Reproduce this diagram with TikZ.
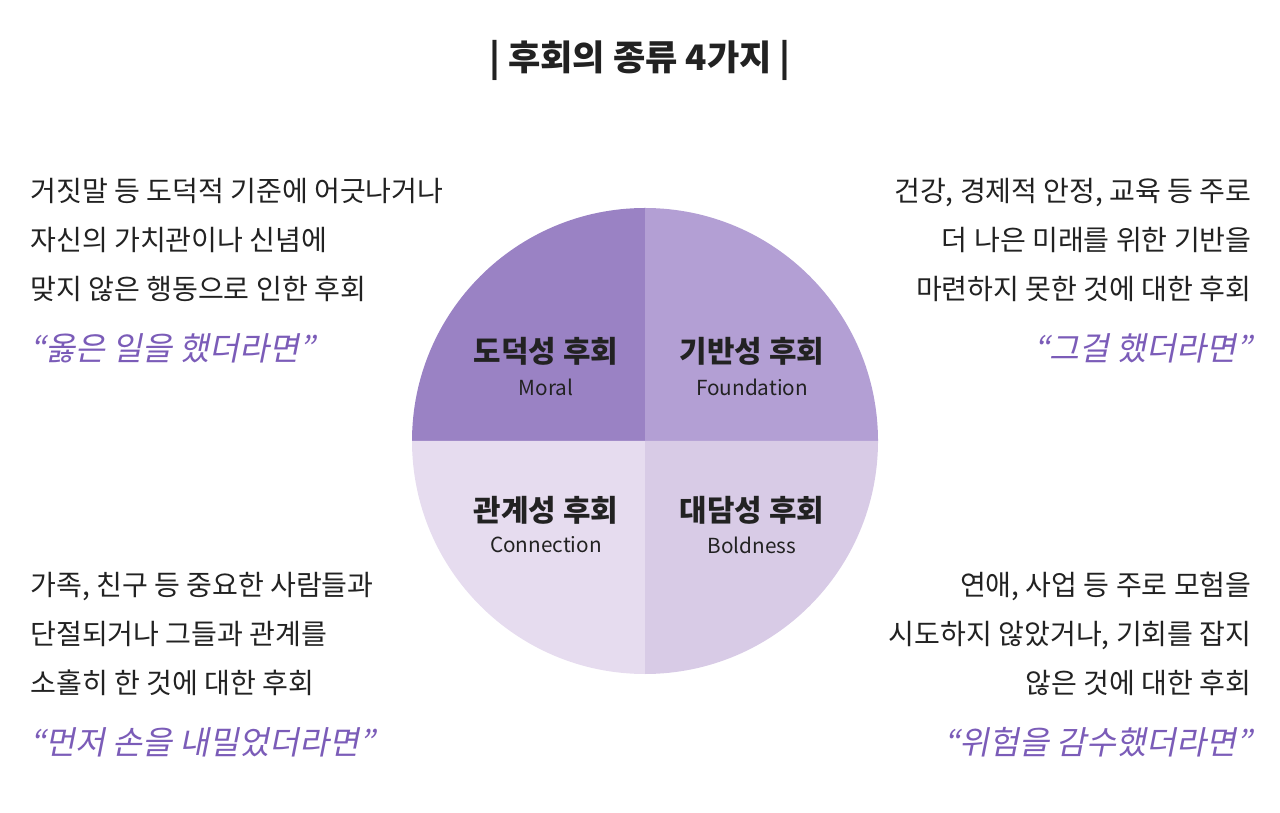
\documentclass[tikz,border=0pt]{standalone}
\usepackage{fontspec}
\setmainfont{Noto Sans CJK KR}
\newfontfamily\slantfont[FakeSlant=0.2]{Noto Sans CJK KR}
\usetikzlibrary{positioning}
\definecolor{quadTL}{HTML}{9A82C4}
\definecolor{quadTR}{HTML}{B39FD4}
\definecolor{quadBL}{HTML}{E6DCEF}
\definecolor{quadBR}{HTML}{D8CBE6}
\definecolor{quoteclr}{HTML}{7B5CB8}
\definecolor{textclr}{HTML}{222222}
\begin{document}
\begin{tikzpicture}[x=0.02cm,y=-0.02cm,
  body/.style={font=\fontsize{16pt}{27.8pt}\selectfont,text=textclr,inner sep=0pt},
  quote/.style={font=\slantfont\fontsize{18.5pt}{20pt}\selectfont,text=quoteclr,inner sep=0pt},
  kname/.style={font=\bfseries\fontsize{17pt}{18pt}\selectfont,text=textclr,inner sep=0pt},
  ename/.style={font=\fontsize{11.8pt}{13pt}\selectfont,text=textclr,inner sep=0pt}]
\useasboundingbox (0,0) rectangle (1280,813);
% circle quadrants
\fill[quadTL] (645,441) -- (412,441) arc[start angle=180,end angle=270,radius=233] -- cycle;
\fill[quadTR] (645,441) -- (645,208) arc[start angle=270,end angle=360,radius=233] -- cycle;
\fill[quadBL] (645,441) -- (412,441) arc[start angle=180,end angle=90,radius=233] -- cycle;
\fill[quadBR] (645,441) -- (645,674) arc[start angle=90,end angle=0,radius=233] -- cycle;

\node[font=\bfseries\fontsize{20pt}{22pt}\selectfont,text=textclr] (title) at (640,60) {| 후회의 종류 4가지 |};

\node[kname] (moral) at (546,351) {도덕성 후회};
\node[ename] (moralen) at (546,387) {Moral};
\node[kname] (found) at (752,351) {기반성 후회};
\node[ename] (founden) at (752,387) {Foundation};
\node[kname] (conn) at (546,510) {관계성 후회};
\node[ename] (connen) at (546,545) {Connection};
\node[kname] (bold) at (752,510) {대담성 후회};
\node[ename] (bolden) at (752,545) {Boldness};

\node[body,align=left,anchor=west] (moraltxt) at (30,240) {거짓말 등 도덕적 기준에 어긋나거나\\자신의 가치관이나 신념에\\맞지 않은 행동으로 인한 후회};
\node[quote,anchor=west] (moralq) at (30,348) {“옳은 일을 했더라면”};
\node[body,align=right,anchor=east] (foundtxt) at (1252,240) {건강, 경제적 안정, 교육 등 주로\\더 나은 미래를 위한 기반을\\마련하지 못한 것에 대한 후회};
\node[quote,anchor=east] (foundq) at (1252,348) {“그걸 했더라면”};
\node[body,align=left,anchor=west] (conntxt) at (30,634) {가족, 친구 등 중요한 사람들과\\단절되거나 그들과 관계를\\소홀히 한 것에 대한 후회};
\node[quote,anchor=west] (connq) at (30,742) {“먼저 손을 내밀었더라면”};
\node[body,align=right,anchor=east] (boldtxt) at (1252,634) {연애, 사업 등 주로 모험을\\시도하지 않았거나, 기회를 잡지\\않은 것에 대한 후회};
\node[quote,anchor=east] (boldq) at (1252,742) {“위험을 감수했더라면”};
\end{tikzpicture}
\end{document}
